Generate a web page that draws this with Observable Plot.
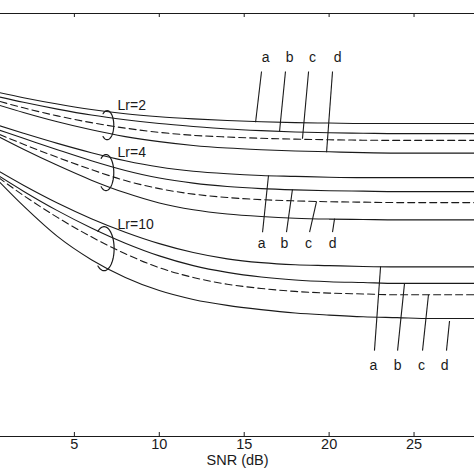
<!DOCTYPE html>
<html><head><meta charset="utf-8">
<script src="https://cdn.jsdelivr.net/npm/d3@7"></script>
<script src="https://cdn.jsdelivr.net/npm/@observablehq/plot@0.6"></script>
<style>body{margin:0;background:#fff;} svg{display:block;}</style>
</head><body><div id="chart"></div>
<script>
// SNR grid (dB)
const snr = [0, 2, 4, 6, 8, 10, 12, 14, 16, 18, 20, 22, 24, 26, 28, 30];
// Curves (unitless level)
const lr2a  = [81.8, 80.1, 78.6, 77.3, 76.3, 75.6, 75.1, 74.7, 74.4, 74.2, 74.1, 74.0, 74.0, 74.0, 74.0, 74.0];
const lr2b  = [80.8, 79.0, 77.4, 76.0, 74.9, 74.0, 73.3, 72.7, 72.3, 72.0, 71.8, 71.7, 71.6, 71.6, 71.6, 71.6];
const lr2c  = [79.9, 77.7, 75.8, 74.2, 72.9, 71.9, 71.2, 70.8, 70.5, 70.3, 70.15, 70.05, 70.0, 70.0, 70.0, 70.0];
const lr2d  = [79.0, 76.6, 74.4, 72.5, 70.9, 69.7, 68.8, 68.2, 67.8, 67.5, 67.3, 67.1, 67.0, 67.0, 67.0, 67.0];
const lr4a  = [74.2, 71.7, 69.3, 67.1, 65.2, 63.7, 62.7, 62.1, 61.7, 61.5, 61.3, 61.2, 61.2, 61.2, 61.2, 61.2];
const lr4b  = [73.2, 70.5, 67.8, 65.2, 62.9, 61.1, 59.9, 59.1, 58.6, 58.3, 58.1, 58.0, 57.9, 57.9, 57.9, 57.9];
const lr4c  = [72.4, 69.1, 66.0, 63.1, 60.5, 58.6, 57.3, 56.5, 56.0, 55.7, 55.5, 55.4, 55.3, 55.3, 55.3, 55.3];
const lr4d  = [72.0, 67.9, 64.1, 60.6, 57.6, 55.2, 53.6, 52.6, 52.0, 51.6, 51.4, 51.3, 51.2, 51.2, 51.2, 51.2];
const lr10a = [64.0, 59.4, 55.2, 51.5, 48.3, 45.6, 43.5, 42.0, 41.1, 40.6, 40.4, 40.2, 40.1, 40.1, 40.1, 40.1];
const lr10b = [63.0, 58.0, 53.4, 49.3, 45.7, 42.7, 40.4, 38.8, 37.7, 37.0, 36.6, 36.4, 36.2, 36.2, 36.2, 36.2];
const lr10c = [62.8, 57.0, 51.8, 47.2, 43.2, 39.9, 37.6, 36.0, 35.0, 34.3, 33.9, 33.7, 33.5, 33.5, 33.5, 33.5];
const lr10d = [62.6, 54.5, 47.3, 41.8, 37.6, 34.5, 32.4, 31.0, 30.0, 29.2, 28.7, 28.3, 28.1, 27.9, 27.9, 27.9];

const xTicks = [5, 10, 15, 20, 25];
const curveNames = ["a", "b", "c", "d"];
const groups = ["Lr=2", "Lr=4", "Lr=10"];
const groupSeries = [[lr2a, lr2b, lr2c, lr2d], [lr4a, lr4b, lr4c, lr4d], [lr10a, lr10b, lr10c, lr10d]];

// Group labels and brackets
const groupLabelSNR = [7.54, 7.54, 7.54];
const groupLabelLevel = [78.3, 67.1, 50.1];
const bracketSNR = [6.93, 6.86, 6.75];
const bracketLevel = [73.6, 62.4, 44.4];
const bracketHalfWidth = [0.39, 0.46, 0.59];
const bracketHalfHeight = [3.43, 4.26, 5.2];

// Leader lines a-d for each group
const leaderFromSNR = [[15.67, 17.08, 18.43, 19.85], [16.43, 17.84, 19.26, 20.32], [23.03, 24.44, 25.85, 27.09]];
const leaderFromLevel = [[74.3, 72.1, 70.4, 67.2], [61.7, 58.4, 55.6, 51.5], [40.2, 36.2, 33.5, 27.3]];
const leaderToSNR = [[16.02, 17.43, 18.79, 20.20], [16.08, 17.49, 18.85, 20.20], [22.67, 24.03, 25.50, 26.91]];
const leaderToLevel = [[86.3, 86.3, 86.3, 86.3], [48.3, 48.3, 48.3, 48.3], [20.3, 20.3, 20.3, 20.3]];
const letterSNR = [[16.26, 17.67, 19.02, 20.50], [16.02, 17.37, 18.79, 20.20], [22.61, 24.03, 25.44, 26.80]];
const letterLevel = [89.6, 45.6, 16.8];

// Build tables
const rows = [];
groups.forEach((g, gi) => groupSeries[gi].forEach((vals, ci) => vals.forEach((v, i) =>
  rows.push({group: g, curve: curveNames[ci], id: g + curveNames[ci], snr: snr[i], level: v}))));
const solid = rows.filter(d => d.curve !== "c");
const dashed = rows.filter(d => d.curve === "c");

const leaders = [];
const letters = [];
groups.forEach((g, gi) => curveNames.forEach((c, ci) => {
  leaders.push({x1: leaderFromSNR[gi][ci], y1: leaderFromLevel[gi][ci], x2: leaderToSNR[gi][ci], y2: leaderToLevel[gi][ci]});
  letters.push({snr: letterSNR[gi][ci], level: letterLevel[gi], text: c});
}));

const brackets = [];
groups.forEach((g, gi) => {
  d3.range(-128, 129, 4).forEach(deg => {
    const t = deg * Math.PI / 180;
    brackets.push({group: g, snr: bracketSNR[gi] + bracketHalfWidth[gi] * Math.cos(t), level: bracketLevel[gi] + bracketHalfHeight[gi] * Math.sin(t)});
  });
});
const groupLabels = groups.map((g, gi) => ({text: g, snr: groupLabelSNR[gi], level: groupLabelLevel[gi]}));

const font = "Helvetica, Arial, 'Liberation Sans', sans-serif";
const ink = "#1a1a1a";

const chart = Plot.plot({
  width: 474,
  height: 474,
  marginLeft: 0,
  marginRight: 0,
  marginTop: 13,
  marginBottom: 38,
  style: {fontFamily: font, background: "#fff", color: ink},
  x: {domain: [0.65, 28.56], axis: null},
  y: {domain: [0, 100], axis: null},
  marks: [
    Plot.ruleY([0, 100], {stroke: ink, strokeWidth: 1.1}),
    Plot.tickX(xTicks, {x: d => d, insetTop: 419, stroke: ink, strokeWidth: 1}),
    Plot.tickX(xTicks, {x: d => d, insetBottom: 419, stroke: ink, strokeWidth: 1}),
    Plot.text(xTicks, {x: d => d, frameAnchor: "bottom", dy: 12, text: d => String(d), fontSize: 14.5, fill: ink}),
    Plot.text(["SNR (dB)"], {frameAnchor: "bottom", dy: 28, text: d => d, fontSize: 14.5, fill: ink}),
    Plot.line(solid, {x: "snr", y: "level", z: "id", curve: "monotone-x", stroke: ink, strokeWidth: 1.1, clip: true}),
    Plot.line(dashed, {x: "snr", y: "level", z: "id", curve: "monotone-x", stroke: ink, strokeWidth: 1.1, strokeDasharray: "7,4", clip: true}),
    Plot.line(brackets, {x: "snr", y: "level", z: "group", stroke: ink, strokeWidth: 1.2}),
    Plot.link(leaders, {x1: "x1", y1: "y1", x2: "x2", y2: "y2", stroke: ink, strokeWidth: 1.1}),
    Plot.text(letters, {x: "snr", y: "level", text: "text", fontSize: 14, fill: ink}),
    Plot.text(groupLabels, {x: "snr", y: "level", text: "text", textAnchor: "start", fontSize: 14, fill: ink})
  ]
});
document.getElementById("chart").append(chart);
</script>
</body></html>
